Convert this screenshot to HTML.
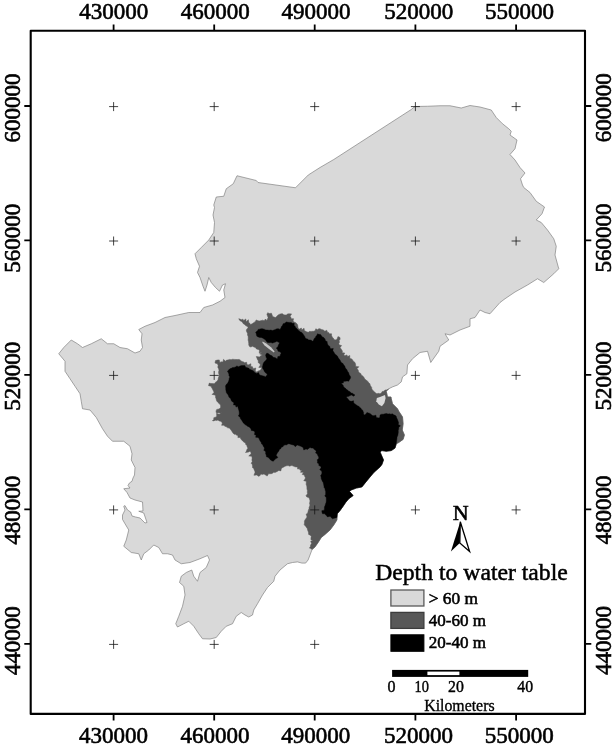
<!DOCTYPE html>
<html lang="en">
<head>
<meta charset="utf-8">
<title>Depth to water table map</title>
<style>
html,body{margin:0;padding:0;background:#fff;}
body{width:615px;height:746px;overflow:hidden;}
svg{display:block;}
</style>
</head>
<body>
<svg width="615" height="746" viewBox="0 0 615 746">
<rect x="0" y="0" width="615" height="746" fill="#ffffff"/>
<polygon points="237.00,175.75 256.25,180.50 258.00,182.50 295.50,187.75 308.25,175.00 320.00,167.50 333.75,159.50 411.25,109.50 415.00,106.50 427.50,106.25 440.00,105.75 450.00,105.75 461.25,108.00 470.00,105.50 480.00,107.00 491.25,110.00 496.25,117.50 502.50,123.75 508.75,128.75 511.25,131.25 510.00,135.00 517.00,140.00 515.00,148.75 510.00,154.50 515.00,160.00 520.00,167.50 525.00,173.00 520.50,178.75 522.50,185.00 523.75,187.50 530.00,192.50 536.25,201.25 544.50,207.00 542.00,213.75 536.25,220.00 541.25,222.50 547.50,230.00 553.75,238.75 556.25,246.25 555.00,255.00 558.75,268.75 553.75,273.75 543.75,282.50 537.50,278.75 527.50,285.00 515.00,292.00 505.00,298.75 500.00,302.50 490.00,313.75 485.00,312.50 480.00,310.00 475.00,317.50 470.00,318.75 470.00,326.25 460.00,330.00 450.00,335.00 445.00,333.75 448.75,340.00 440.00,346.25 438.75,351.25 430.75,362.50 427.50,351.25 420.00,352.50 412.50,358.75 407.50,365.00 406.90,373.75 402.50,376.90 401.25,381.90 397.50,385.00 392.50,386.90 388.75,388.75 386.25,391.25 387.50,396.90 391.00,397.00 391.25,398.75 392.50,403.75 397.50,408.75 398.75,411.25 402.50,416.90 403.10,423.75 402.25,430.00 404.40,435.00 403.10,439.40 398.75,442.50 396.25,443.75 395.00,448.10 391.25,450.60 386.25,451.25 381.90,450.60 380.00,451.90 381.90,456.25 383.50,460.00 381.90,464.40 380.00,466.90 373.75,472.50 367.50,480.00 361.90,486.90 356.25,488.10 351.25,490.00 349.40,491.25 353.10,495.60 348.75,498.75 345.60,502.50 343.10,506.25 340.00,510.60 337.25,513.75 336.90,520.00 333.75,525.00 330.00,530.00 325.00,534.40 321.25,537.50 318.10,542.50 315.00,546.90 311.90,550.00 310.00,555.00 308.10,560.00 305.60,563.10 301.90,563.10 297.50,561.90 292.50,562.50 287.50,563.75 280.00,570.00 275.00,576.25 273.75,581.25 267.50,587.50 262.50,595.00 257.50,603.75 253.75,610.00 252.50,615.00 248.75,617.00 245.00,615.00 241.25,612.50 236.25,616.25 232.50,623.75 226.25,626.25 221.25,631.25 216.25,637.50 210.00,639.00 202.50,638.75 198.75,633.75 193.75,626.25 188.75,621.25 183.75,623.75 177.50,627.00 175.75,623.75 178.75,616.25 182.50,606.25 185.00,595.00 183.75,586.25 179.50,582.50 181.25,576.25 186.25,572.50 191.75,570.00 193.75,576.25 197.50,581.25 200.00,572.50 206.25,567.50 209.50,560.00 207.50,555.50 200.00,558.75 190.00,562.50 181.25,563.75 175.00,560.00 172.50,555.00 167.50,553.75 162.50,553.75 158.75,547.50 153.75,545.00 148.75,550.00 143.75,553.75 141.25,560.00 138.75,553.75 131.25,552.50 123.75,546.25 126.25,540.00 128.75,530.00 125.00,523.75 122.50,519.40 122.50,515.00 125.00,510.00 123.75,506.25 125.00,505.60 127.50,510.00 130.60,512.00 132.00,516.00 135.60,517.00 140.00,518.00 145.00,523.00 147.00,522.50 143.75,513.00 138.75,511.25 143.00,511.00 142.50,502.00 135.00,500.00 130.00,498.00 127.00,492.50 123.75,488.75 130.00,488.00 128.00,485.60 129.40,483.00 132.00,481.25 133.00,478.00 134.50,475.00 135.00,467.50 131.25,460.00 132.00,453.75 130.00,446.25 123.75,441.25 112.50,441.25 107.50,436.25 102.50,428.75 96.25,417.50 90.00,410.00 82.50,408.75 81.25,401.25 80.00,393.75 75.00,386.25 70.00,378.75 65.00,371.25 65.00,361.25 58.75,353.75 63.75,347.50 71.25,340.00 77.50,343.75 82.50,347.50 91.25,343.75 101.25,338.75 107.50,343.75 113.75,343.75 120.00,347.50 127.50,348.75 135.00,353.00 140.00,351.25 142.50,347.50 141.25,340.00 142.00,333.75 138.75,329.50 145.00,326.25 155.00,322.50 165.00,317.50 175.00,315.50 188.75,312.50 200.00,312.50 203.75,307.50 212.50,305.00 220.00,301.25 225.00,297.50 223.75,290.00 225.50,283.75 222.50,285.00 219.50,291.25 215.50,287.50 211.25,282.50 208.75,277.50 207.00,285.00 205.00,291.25 203.00,286.25 200.00,277.50 197.50,272.50 199.50,266.25 196.25,258.75 195.00,253.75 201.25,247.50 208.75,240.00 213.75,232.50 214.50,222.50 213.00,215.00 214.50,207.50 213.75,205.00 216.25,197.00 223.75,196.25 226.25,188.75 233.25,183.75" fill="#d9d9d9" stroke="#7a7a7a" stroke-width="0.65" stroke-linejoin="round"/>
<polygon points="311.90,549.40 310.80,548.45 309.40,548.10 310.38,546.70 310.60,545.00 311.55,543.60 310.69,541.17 313.10,540.60 310.95,539.80 310.96,538.08 311.25,536.25 310.20,535.17 308.62,534.41 308.52,532.73 308.10,531.25 307.56,529.96 307.24,528.56 306.41,527.41 305.60,526.25 304.19,524.83 304.50,522.99 304.40,521.25 304.95,519.96 305.76,518.80 306.65,517.69 306.90,516.25 306.12,514.30 307.77,512.93 308.10,511.25 308.40,509.98 309.04,508.81 309.06,507.44 309.55,506.23 310.00,505.00 309.49,503.47 309.90,501.86 309.91,500.28 309.40,498.75 308.69,497.59 306.79,496.88 305.98,495.76 307.50,493.75 307.28,492.19 307.38,490.61 306.96,489.07 306.90,487.50 306.78,485.93 306.15,484.42 306.26,482.83 306.25,481.25 303.77,480.63 305.06,478.88 305.34,477.44 304.61,476.30 304.40,475.00 302.23,474.52 303.48,472.34 300.44,472.29 301.90,470.00 300.05,470.28 299.49,468.74 297.62,469.06 297.50,466.90 295.86,466.94 294.30,466.59 292.83,465.85 291.25,465.60 289.73,466.13 288.09,465.59 286.54,465.83 285.00,466.25 283.74,467.07 282.37,467.73 281.25,468.75 280.87,470.92 278.78,470.38 277.60,471.27 276.25,471.90 275.03,472.38 273.63,472.23 272.58,473.27 271.33,473.65 270.00,473.75 268.49,473.78 267.18,476.07 265.58,475.07 263.97,473.95 262.50,474.40 261.05,474.12 259.82,475.80 258.46,476.37 256.90,475.00 253.92,475.29 255.00,472.50 254.81,471.12 254.14,469.95 253.84,468.62 252.56,467.68 252.50,466.25 252.37,464.69 251.20,463.22 252.27,461.54 251.90,460.00 252.15,458.11 251.75,456.25 248.75,455.94 251.14,453.63 250.79,452.34 249.90,451.25 248.56,452.11 247.02,452.26 245.50,452.50 246.44,451.10 246.94,449.44 248.00,448.10 247.14,446.97 246.99,445.48 245.71,444.56 245.50,443.10 244.06,442.29 242.85,441.21 241.75,440.00 240.80,438.91 240.22,437.51 237.90,437.58 238.00,435.60 236.67,435.14 235.52,434.30 234.04,434.14 233.00,433.10 232.17,431.77 231.33,430.44 230.41,429.18 229.25,428.10 227.65,427.84 226.36,426.85 224.90,426.25 223.88,425.33 221.61,425.32 222.32,423.15 221.75,421.90 220.51,421.25 219.12,420.88 218.00,420.00 216.63,420.44 215.19,420.20 213.85,420.88 212.40,420.60 213.71,419.74 213.80,417.65 215.45,417.13 216.75,416.25 216.53,413.35 219.16,414.25 220.47,413.40 221.75,412.50 220.34,413.33 218.93,412.64 217.51,412.92 216.10,412.50 216.08,410.88 216.75,409.40 218.22,409.16 219.56,408.59 220.83,407.82 222.26,407.47 223.60,406.90 220.68,408.18 220.50,405.00 219.28,403.72 218.00,402.50 217.03,401.42 216.39,400.18 216.10,398.76 215.50,397.50 215.56,396.12 215.03,394.91 212.07,394.45 214.00,392.49 213.60,391.25 212.93,390.02 212.33,388.76 211.48,387.62 211.10,386.25 208.52,385.65 209.25,383.10 210.89,383.53 212.58,383.53 214.25,383.75 215.01,382.64 216.16,381.91 217.06,380.93 218.00,380.00 218.24,378.29 218.80,376.66 219.25,375.00 218.67,373.48 218.57,371.91 218.99,370.29 218.60,368.75 217.79,367.18 218.14,365.34 217.40,363.75 215.01,363.04 215.50,360.60 217.47,360.06 219.28,359.90 219.90,362.50 221.38,361.83 223.00,361.90 223.46,359.34 225.62,361.27 226.59,360.06 228.00,360.00 229.52,359.42 231.13,359.71 232.66,359.23 234.25,359.40 235.92,359.47 237.58,359.55 239.25,359.40 240.61,360.38 241.92,361.47 243.60,361.90 244.67,362.72 246.64,362.25 246.91,364.22 248.00,365.00 250.91,363.72 250.77,366.51 252.55,366.75 253.00,368.75 255.77,367.99 255.27,371.12 256.75,371.90 258.17,370.88 259.90,370.60 261.02,369.17 261.75,367.50 258.77,367.42 260.34,365.09 259.90,363.75 258.27,362.76 258.30,360.81 257.40,359.40 256.31,356.48 259.40,356.90 260.80,355.70 262.50,355.00 259.73,353.93 261.90,351.90 259.25,353.18 259.45,350.10 258.10,349.40 256.45,348.92 255.38,347.42 253.75,346.90 252.59,346.19 250.85,347.00 249.57,346.60 248.75,345.00 248.72,343.31 248.52,341.64 248.10,340.00 248.21,338.30 248.16,336.61 247.50,335.00 247.53,333.22 246.62,331.68 246.25,330.00 247.19,328.76 248.10,327.50 247.08,326.25 245.60,325.60 244.61,324.52 243.31,323.76 242.50,322.50 241.56,321.57 240.30,320.95 239.46,319.91 238.75,318.75 240.05,319.09 241.20,319.81 242.87,319.14 243.75,320.60 245.81,318.94 246.14,321.85 248.38,319.70 248.75,322.50 249.79,323.34 250.60,324.40 252.19,323.78 253.55,322.77 255.00,321.90 256.22,319.92 258.03,320.82 259.68,320.88 261.25,320.60 262.66,320.15 264.07,320.74 265.49,319.04 266.90,320.60 267.50,319.05 268.10,317.50 267.50,315.95 266.90,314.40 267.70,312.70 269.40,313.50 271.49,313.22 272.03,314.70 272.50,316.25 273.95,317.11 275.60,317.50 276.83,316.23 278.10,315.00 279.62,314.23 281.25,313.75 282.62,313.82 283.70,314.74 285.00,315.00 286.36,314.90 287.46,314.04 288.75,313.75 291.58,313.90 290.11,316.20 290.89,317.37 291.25,318.75 293.53,318.65 293.17,320.65 293.75,321.90 295.48,322.55 296.90,323.75 297.66,325.10 297.88,326.60 298.10,328.10 299.17,329.14 301.31,328.01 301.90,330.00 304.03,328.16 304.44,330.84 305.71,331.26 306.90,331.90 308.35,332.21 309.67,331.34 311.10,331.38 312.50,331.25 313.88,331.23 315.08,330.64 315.83,328.74 317.59,329.85 318.61,328.73 320.00,328.75 321.21,329.39 322.57,329.66 323.79,330.25 324.84,331.27 326.77,330.23 327.43,332.14 328.75,332.50 329.28,333.87 331.56,333.79 331.57,335.60 332.17,336.91 333.19,337.88 333.83,339.16 335.00,340.00 336.38,339.63 337.31,338.38 337.98,336.59 340.00,337.50 340.13,339.15 339.16,340.58 339.48,342.27 338.75,343.75 339.38,344.97 341.55,345.50 340.09,347.64 340.98,348.75 341.71,349.92 342.43,351.09 342.22,352.69 344.82,353.03 343.75,355.00 344.91,355.80 346.92,354.92 347.65,356.58 349.78,355.44 349.84,358.45 351.25,358.75 352.33,359.54 352.98,360.77 353.99,361.64 355.00,362.50 355.46,363.73 355.69,365.02 355.73,366.38 358.88,366.78 356.90,368.75 358.11,369.76 358.46,371.38 359.27,372.67 360.74,373.50 361.25,375.00 362.46,375.79 363.53,376.72 364.28,377.97 364.94,379.31 366.25,380.00 367.15,380.97 368.22,381.78 368.76,383.12 370.00,383.75 370.17,385.13 370.86,386.31 371.71,387.41 371.79,388.84 372.50,390.00 373.48,391.08 374.63,391.95 375.59,393.06 376.90,393.75 378.45,393.36 380.00,393.75 381.41,393.03 382.21,391.49 383.96,391.21 385.00,390.00 386.37,389.96 387.62,389.54 388.75,388.75 386.25,391.25 387.50,396.90 391.00,397.00 391.25,398.75 392.50,403.75 397.50,408.75 398.75,411.25 402.50,416.90 403.10,423.75 402.25,430.00 404.40,435.00 403.10,439.40 398.75,442.50 396.25,443.75 395.00,448.10 391.25,450.60 386.25,451.25 381.90,450.60 380.00,451.90 381.90,456.25 383.50,460.00 381.90,464.40 380.00,466.90 373.75,472.50 367.50,480.00 361.90,486.90 356.25,488.10 351.25,490.00 349.40,491.25 353.10,495.60 348.75,498.75 345.60,502.50 343.10,506.25 340.00,510.60 337.25,513.75 336.90,520.00 333.75,525.00 330.00,530.00 325.00,534.40 321.25,537.50 318.10,542.50 315.00,546.90" fill="#585858" stroke="#585858" stroke-width="0.5" stroke-linejoin="round"/>
<polygon points="336.90,517.50 335.45,517.96 333.96,518.31 332.50,518.75 331.20,517.55 330.00,516.25 327.50,516.90 326.66,515.86 325.64,514.95 325.00,513.75 322.50,513.75 321.95,512.11 321.81,510.63 324.28,510.14 324.40,508.75 324.42,506.99 325.11,505.39 325.60,503.75 326.17,502.23 326.29,500.66 326.30,499.08 326.25,497.50 324.79,496.07 325.64,494.40 325.65,492.82 325.60,491.25 325.10,490.04 325.04,488.70 324.09,487.62 323.95,486.30 323.75,485.00 323.46,483.67 323.09,482.37 322.33,481.22 321.84,479.96 321.25,478.75 321.12,477.16 320.61,475.52 321.76,474.07 321.90,472.50 321.66,470.92 319.76,469.68 321.11,467.77 320.60,466.25 318.86,465.60 318.87,463.86 317.41,463.04 317.50,461.25 317.18,459.75 318.59,458.84 318.75,457.50 318.29,456.23 317.57,455.07 317.14,453.79 315.59,452.96 316.25,451.25 315.34,450.06 313.97,449.33 313.10,448.10 311.49,448.12 310.00,447.50 308.70,448.38 307.50,449.40 305.99,448.88 303.78,449.96 303.10,447.50 301.73,446.68 300.26,446.10 298.75,445.60 297.13,445.04 295.24,446.65 293.75,445.00 292.06,444.67 290.43,444.13 288.75,443.75 287.50,444.20 286.36,444.96 284.90,444.87 283.75,445.60 282.84,446.75 281.40,447.30 280.73,448.73 279.40,449.40 278.89,451.04 277.81,452.34 276.90,453.75 276.14,455.33 277.92,457.57 275.60,458.75 274.47,460.12 273.10,461.25 271.41,460.56 270.00,459.40 269.19,458.19 267.98,457.32 266.43,456.75 266.25,455.00 265.60,453.83 265.69,452.45 265.38,451.18 263.76,450.30 264.40,448.75 264.10,447.33 263.24,446.20 262.79,444.86 261.59,443.90 261.25,442.50 260.33,441.32 259.57,440.04 259.14,438.54 258.00,437.50 255.64,437.22 256.17,435.20 254.44,434.54 254.83,432.60 254.25,431.25 252.97,430.70 251.32,430.57 251.03,428.89 250.14,427.90 249.25,426.90 247.81,426.41 246.67,425.46 245.33,424.80 244.25,423.75 243.12,422.65 242.33,421.29 241.52,419.94 240.50,418.75 240.10,417.21 238.37,415.93 239.25,414.13 239.25,412.50 239.03,410.92 238.56,409.39 238.03,407.87 238.00,406.25 236.00,407.12 235.50,405.00 233.51,404.98 233.91,402.85 232.86,402.00 231.71,401.23 231.10,400.00 230.61,398.52 229.31,397.58 228.60,396.25 228.22,394.88 227.23,393.81 226.43,392.65 226.10,391.25 225.76,389.60 225.76,387.91 225.50,386.25 225.98,384.82 227.13,383.80 227.96,382.58 228.60,381.25 229.04,379.80 229.19,378.27 229.90,376.90 228.93,375.64 228.90,373.96 228.20,372.59 227.40,371.25 228.70,370.05 229.90,368.75 231.30,368.29 232.61,367.55 234.11,367.40 235.50,366.90 236.87,365.91 238.57,366.76 239.99,366.06 241.46,365.62 243.00,365.60 244.76,365.42 245.64,367.21 247.11,367.68 248.60,368.10 249.52,369.18 250.83,369.66 252.06,370.27 253.33,370.82 254.25,371.90 255.39,372.75 256.63,373.39 258.59,372.60 259.25,374.40 260.40,375.15 261.70,375.52 263.01,375.88 264.33,376.20 265.50,376.90 266.28,375.78 267.40,375.00 266.62,373.53 265.16,372.62 264.25,371.25 263.67,369.78 262.70,368.48 262.40,366.90 262.79,365.42 263.06,363.89 263.75,362.50 264.82,361.27 266.04,360.16 266.90,358.75 266.21,357.59 265.86,356.31 265.60,355.00 266.90,353.10 268.63,353.76 270.00,355.00 271.47,355.50 272.64,356.46 273.75,357.50 275.11,357.59 276.21,358.45 277.50,358.75 277.85,356.60 280.00,356.25 280.42,354.59 281.25,353.10 279.88,351.83 278.10,351.25 277.49,349.49 276.25,348.10 277.37,347.37 278.10,346.25 278.30,344.92 279.25,343.85 279.40,342.50 278.07,342.04 276.90,341.25 275.49,342.01 273.96,342.48 272.50,343.10 270.87,342.55 269.16,342.72 267.50,342.50 266.52,341.59 265.82,340.45 265.00,339.40 263.73,338.81 262.55,338.04 261.25,337.50 259.71,337.41 258.27,336.95 256.90,336.25 256.45,335.01 256.27,333.67 255.60,332.50 256.43,331.46 257.58,330.68 258.10,329.40 259.56,329.17 261.00,328.72 262.50,328.75 264.16,329.17 265.74,329.94 267.50,330.00 269.16,330.27 270.88,330.05 272.50,330.60 273.98,330.00 275.45,329.42 276.90,328.75 278.52,328.75 280.00,329.40 280.91,328.06 281.46,326.53 282.60,325.31 283.10,323.75 284.88,323.17 286.25,321.90 287.89,322.33 289.57,322.45 291.25,322.50 292.26,323.37 294.29,323.21 294.07,325.31 295.00,326.25 295.84,327.66 297.03,328.78 298.10,330.00 299.33,330.89 300.48,331.91 301.90,332.50 302.86,333.69 303.66,334.99 304.59,336.20 305.20,337.63 306.25,338.75 307.60,339.01 308.69,339.89 310.13,339.92 311.41,340.36 312.50,341.25 313.59,340.17 314.01,338.64 315.28,337.69 315.89,336.29 316.93,335.17 317.50,333.75 318.83,334.37 320.49,334.43 321.43,335.70 322.33,337.03 323.75,337.50 324.63,338.50 325.27,339.64 325.53,341.02 327.16,341.55 327.23,343.05 327.66,344.32 328.40,345.41 329.65,346.17 330.00,347.50 330.63,348.79 333.27,348.40 332.85,350.57 333.55,351.80 334.42,352.89 335.04,354.19 336.25,355.00 337.42,356.08 338.09,357.52 339.00,358.80 340.00,360.00 340.71,361.42 341.55,362.74 343.02,363.60 343.75,365.00 344.76,366.09 345.18,367.54 346.00,368.75 346.97,369.87 347.50,371.25 348.43,372.35 348.95,373.65 349.29,375.04 350.27,376.11 350.60,377.50 350.18,378.85 349.30,379.96 348.75,381.25 347.08,380.89 345.42,381.22 343.75,381.25 343.19,383.11 341.25,383.10 342.17,384.31 343.23,385.43 343.75,386.90 344.66,387.87 345.79,388.60 346.69,389.58 347.83,390.29 348.75,391.25 350.11,391.81 351.04,393.09 352.60,393.33 353.71,394.32 355.00,395.00 353.45,396.15 351.63,395.07 350.00,395.60 348.86,396.36 347.50,396.47 346.25,396.90 347.13,397.90 348.01,398.89 348.75,400.00 349.81,401.08 351.36,401.36 353.51,400.70 353.75,403.10 354.99,403.91 356.25,404.68 357.30,405.78 358.75,406.25 359.64,407.23 360.68,408.07 361.44,409.19 362.50,410.00 363.02,411.23 363.62,412.44 363.54,413.90 364.40,415.00 365.92,414.02 366.90,412.50 368.44,412.94 369.93,413.46 371.25,414.40 372.30,415.50 373.95,415.63 375.99,415.13 376.25,417.50 377.82,417.82 379.40,418.10 379.91,416.59 380.00,415.00 381.58,414.23 383.34,414.19 385.00,413.75 386.50,413.48 388.00,414.07 389.50,413.79 391.00,414.13 392.50,413.75 393.57,414.85 395.08,415.30 396.25,416.25 396.53,417.57 397.11,418.77 397.66,419.99 398.10,421.25 398.64,422.77 398.21,424.40 400.44,425.75 398.75,427.50 398.69,429.07 398.23,430.61 398.32,432.19 398.10,433.75 397.81,435.44 397.05,437.02 396.90,438.75 396.25,443.75 395.00,448.10 391.25,450.60 386.25,451.25 381.90,450.60 380.00,451.90 381.90,456.25 383.50,460.00 381.90,464.40 380.00,466.90 373.75,472.50 367.50,480.00 361.90,486.90 356.25,488.10 351.25,490.00 349.40,491.25 353.10,495.60 348.75,498.75 345.60,502.50 343.10,506.25 340.00,510.60 337.25,513.75" fill="#000000" stroke="#000000" stroke-width="0.4" stroke-linejoin="round"/>
<polygon points="376.90,398.10 380.00,396.90 385.00,395.00 385.60,398.10 384.40,403.10 381.90,406.25 378.75,404.40 376.25,401.25" fill="#d9d9d9"/>
<polygon points="262.60,341.60 266.25,343.60 271.00,347.20 274.60,351.40 273.90,352.40 269.00,349.00 264.60,345.40 262.30,342.60" fill="#c8c8c8"/>
<g stroke="#151515" stroke-width="0.8" fill="none">
<path d="M109.10 106.60H118.10M113.60 102.10V111.10"/>
<path d="M109.10 241.00H118.10M113.60 236.50V245.50"/>
<path d="M109.10 375.40H118.10M113.60 370.90V379.90"/>
<path d="M109.10 509.90H118.10M113.60 505.40V514.40"/>
<path d="M109.10 644.40H118.10M113.60 639.90V648.90"/>
<path d="M209.70 106.60H218.70M214.20 102.10V111.10"/>
<path d="M209.70 241.00H218.70M214.20 236.50V245.50"/>
<path d="M209.70 375.40H218.70M214.20 370.90V379.90"/>
<path d="M209.70 509.90H218.70M214.20 505.40V514.40"/>
<path d="M209.70 644.40H218.70M214.20 639.90V648.90"/>
<path d="M310.20 106.60H319.20M314.70 102.10V111.10"/>
<path d="M310.20 241.00H319.20M314.70 236.50V245.50"/>
<path d="M310.20 509.90H319.20M314.70 505.40V514.40"/>
<path d="M310.20 644.40H319.20M314.70 639.90V648.90"/>
<path d="M410.90 106.60H419.90M415.40 102.10V111.10"/>
<path d="M410.90 241.00H419.90M415.40 236.50V245.50"/>
<path d="M410.90 375.40H419.90M415.40 370.90V379.90"/>
<path d="M410.90 509.90H419.90M415.40 505.40V514.40"/>
<path d="M511.60 106.60H520.60M516.10 102.10V111.10"/>
<path d="M511.60 241.00H520.60M516.10 236.50V245.50"/>
<path d="M511.60 375.40H520.60M516.10 370.90V379.90"/>
<path d="M511.60 509.90H520.60M516.10 505.40V514.40"/>
</g>
<rect x="30.7" y="30.8" width="554.3" height="683.1" fill="none" stroke="#000" stroke-width="2.1" stroke-linejoin="round"/>
<g stroke="#000" stroke-width="1.8">
<path d="M113.60 24.6V30.8M113.60 713.9V720.4"/>
<path d="M214.20 24.6V30.8M214.20 713.9V720.4"/>
<path d="M314.70 24.6V30.8M314.70 713.9V720.4"/>
<path d="M415.40 24.6V30.8M415.40 713.9V720.4"/>
<path d="M516.10 24.6V30.8M516.10 713.9V720.4"/>
<path d="M24.3 106.00H30.7M585 106.00H591.3"/>
<path d="M24.3 240.40H30.7M585 240.40H591.3"/>
<path d="M24.3 374.80H30.7M585 374.80H591.3"/>
<path d="M24.3 509.30H30.7M585 509.30H591.3"/>
<path d="M24.3 643.80H30.7M585 643.80H591.3"/>
</g>
<g font-family="'Liberation Serif', serif" font-size="22.8" fill="#000" text-anchor="middle" stroke="#000" stroke-width="0.6">
<text x="113.70" y="18.6" textLength="69" lengthAdjust="spacingAndGlyphs">430000</text>
<text x="113.40" y="742.5" textLength="69" lengthAdjust="spacingAndGlyphs">430000</text>
<text x="215.30" y="18.6" textLength="69" lengthAdjust="spacingAndGlyphs">460000</text>
<text x="215.00" y="742.5" textLength="69" lengthAdjust="spacingAndGlyphs">460000</text>
<text x="316.10" y="18.6" textLength="69" lengthAdjust="spacingAndGlyphs">490000</text>
<text x="315.80" y="742.5" textLength="69" lengthAdjust="spacingAndGlyphs">490000</text>
<text x="418.70" y="18.6" textLength="69" lengthAdjust="spacingAndGlyphs">520000</text>
<text x="418.40" y="742.5" textLength="69" lengthAdjust="spacingAndGlyphs">520000</text>
<text x="519.60" y="18.6" textLength="69" lengthAdjust="spacingAndGlyphs">550000</text>
<text x="519.30" y="742.5" textLength="69" lengthAdjust="spacingAndGlyphs">550000</text>
<text transform="translate(20.2 107.90) rotate(-90)" textLength="69" lengthAdjust="spacingAndGlyphs">600000</text>
<text transform="translate(610.9 107.70) rotate(-90)" textLength="69" lengthAdjust="spacingAndGlyphs">600000</text>
<text transform="translate(20.2 238.20) rotate(-90)" textLength="69" lengthAdjust="spacingAndGlyphs">560000</text>
<text transform="translate(610.9 238.00) rotate(-90)" textLength="69" lengthAdjust="spacingAndGlyphs">560000</text>
<text transform="translate(20.2 376.20) rotate(-90)" textLength="69" lengthAdjust="spacingAndGlyphs">520000</text>
<text transform="translate(610.9 376.00) rotate(-90)" textLength="69" lengthAdjust="spacingAndGlyphs">520000</text>
<text transform="translate(20.2 510.30) rotate(-90)" textLength="69" lengthAdjust="spacingAndGlyphs">480000</text>
<text transform="translate(610.9 510.10) rotate(-90)" textLength="69" lengthAdjust="spacingAndGlyphs">480000</text>
<text transform="translate(20.2 640.70) rotate(-90)" textLength="69" lengthAdjust="spacingAndGlyphs">440000</text>
<text transform="translate(610.9 640.50) rotate(-90)" textLength="69" lengthAdjust="spacingAndGlyphs">440000</text>
</g>
<text x="460.6" y="519.6" font-family="'Liberation Serif', serif" font-size="22" text-anchor="middle" fill="#000" stroke="#000" stroke-width="0.6">N</text>
<polygon points="460.3,521.8 450.9,551.6 459.8,543" fill="#000"/>
<polygon points="460.3,521.8 459.8,543 469.6,551.6" fill="#fff" stroke="#000" stroke-width="1.3" stroke-linejoin="miter"/>
<text x="375.2" y="579.6" font-family="'Liberation Serif', serif" font-size="23.4" fill="#000" textLength="192.6" lengthAdjust="spacingAndGlyphs" stroke="#000" stroke-width="0.5">Depth to water table</text>
<rect x="390.9" y="590" width="33" height="16" fill="#d9d9d9" stroke="#5a5a5a" stroke-width="1.3"/>
<rect x="390.9" y="612.4" width="33" height="16" fill="#585858" stroke="#3c3c3c" stroke-width="1.3"/>
<rect x="390.9" y="634.8" width="33" height="16.5" fill="#000" stroke="#000" stroke-width="1"/>
<g font-family="'Liberation Serif', serif" font-size="17" fill="#000" stroke="#000" stroke-width="0.55">
<text x="428.7" y="603.8" textLength="49.2" lengthAdjust="spacingAndGlyphs">&gt; 60 m</text>
<text x="428.7" y="625.9" textLength="57.3" lengthAdjust="spacingAndGlyphs">40-60 m</text>
<text x="428.7" y="648.1" textLength="57.3" lengthAdjust="spacingAndGlyphs">20-40 m</text>
</g>
<rect x="392.1" y="669.9" width="136.1" height="7" fill="#000"/>
<rect x="427.4" y="671.6" width="32" height="3.5" fill="#fff"/>
<g font-family="'Liberation Serif', serif" font-size="16" fill="#000" stroke="#000" stroke-width="0.4">
<text x="387.6" y="692.4">0</text>
<text x="414.6" y="692.4" textLength="14.4" lengthAdjust="spacingAndGlyphs">10</text>
<text x="448" y="692.4" textLength="15.8" lengthAdjust="spacingAndGlyphs">20</text>
<text x="517.3" y="692.4" textLength="15.8" lengthAdjust="spacingAndGlyphs">40</text>
</g>
<text x="424.2" y="710.5" font-family="'Liberation Serif', serif" font-size="17" fill="#000" textLength="70.4" lengthAdjust="spacingAndGlyphs" stroke="#000" stroke-width="0.35">Kilometers</text>
</svg>
</body>
</html>
